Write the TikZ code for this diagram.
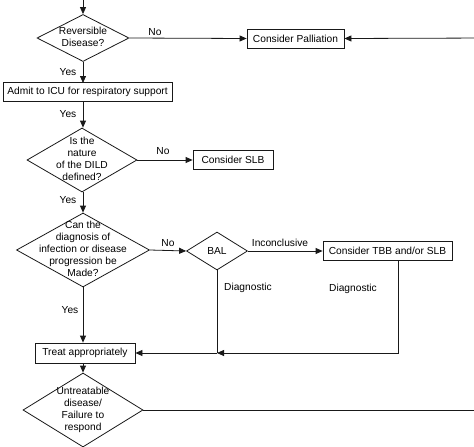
\documentclass[tikz,border=0pt]{standalone}
\usepackage{fontspec}
\setmainfont{Liberation Sans}
\usetikzlibrary{shapes.geometric,arrows.meta}
\definecolor{chartline}{RGB}{25,25,25}

% text set inside a diamond, taking no room of its own
\newcommand{\dtext}[1]{\raisebox{-2.5pt}[0pt][0pt]{\makebox[0pt]{\begin{tabular}{@{}c@{}}#1\end{tabular}}}}

\begin{document}
\begin{tikzpicture}[x=1pt,y=-1pt,
  font=\fontsize{10.2}{12.2}\selectfont,
  decision/.style={draw=chartline, line width=0.8pt, shape=diamond, inner sep=0pt},
  process/.style={draw=chartline, line width=0.8pt, rectangle, inner sep=0pt, minimum height=19pt},
  flow/.style={draw=chartline, line width=0.8pt, -{Triangle[length=7pt,width=6pt]}},
  plain/.style={draw=chartline, line width=0.8pt},
  tag/.style={inner sep=0pt}]
\clip (0,0) rectangle (474,447);

% decisions
\node[decision, minimum width=92pt, minimum height=47pt] (rev) at (83,38) {\dtext{Reversible\\Disease?}};
\node[decision, minimum width=110pt, minimum height=64pt] (dild) at (82,160) {\dtext{Is the\\nature\\of the DILD\\defined?}};
\node[decision, minimum width=133pt, minimum height=74pt] (diag) at (83,250) {\dtext{Can the\\diagnosis of\\infection or disease\\progression be\\Made?}};
\node[decision, minimum width=61pt, minimum height=38pt] (bal) at (217,251) {BAL};
\node[decision, minimum width=120pt, minimum height=74pt] (untr) at (83,410) {\dtext{Untreatable\\disease/\\Failure to\\respond}};

% boxes
\node[process, minimum width=97pt] (pall) at (295.5,38.5) {Consider Palliation};
\node[process, minimum width=169pt] (icu) at (87.5,92) {Admit to ICU for respiratory support};
\node[process, minimum width=80pt] (slb) at (233,160) {Consider SLB};
\node[process, minimum width=129pt] (tbb) at (387.5,251) {Consider TBB and/or SLB};
\node[process, minimum width=100pt, minimum height=20pt] (treat) at (85,353) {Treat appropriately};

% ends that run off the picture
\coordinate (top) at (83,-10);
\coordinate (farright) at (490,38);
\coordinate (rightout) at (490,410);
\coordinate (bottom) at (83,470);
\coordinate (join) at (217,353);

% connectors
\draw[flow] (top) -- (rev.north);
\draw[flow] (rev.east) -- (pall.west);
\draw[flow] (farright) -- (pall.east);
\draw[flow] (rev.south) -- (83,83);
\draw[flow] (83,101.5) -- (dild.north -| 83,0);
\draw[flow] (dild.east) -- (slb.west);
\draw[flow] (dild.south -| 83,0) -- (diag.north);
\draw[flow] (diag.east) -- (bal.west);
\draw[flow] (bal.east) -- (tbb.west);
\draw[plain] (bal.south) -- (join);
\draw[flow] (join) -- (treat.east);
\draw[flow] (tbb.south -| 398,0) |- (join);
\draw[flow] (diag.south) -- (treat.north -| 83,0);
\draw[flow] (treat.south -| 83,0) -- (untr.north);
\draw[plain] (untr.east) -- (rightout);
\draw[flow] (untr.south) -- (bottom);

% labels
\node[tag] (no1) at (155,32) {No};
\node[tag] (yes1) at (68,72) {Yes};
\node[tag] (yes2) at (68,114) {Yes};
\node[tag] (no2) at (163,151) {No};
\node[tag] (yes3) at (68,200) {Yes};
\node[tag] (no3) at (168,243) {No};
\node[tag] (inc) at (280,243) {Inconclusive};
\node[tag] (yes4) at (70,310) {Yes};
\node[tag] (dg1) at (248,288) {Diagnostic};
\node[tag] (dg2) at (353,289) {Diagnostic};
\end{tikzpicture}
\end{document}
